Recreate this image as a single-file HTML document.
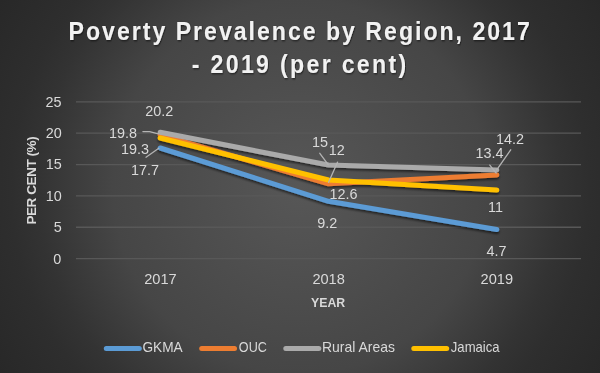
<!DOCTYPE html>
<html><head><meta charset="utf-8">
<style>
html,body{margin:0;padding:0;width:600px;height:373px;overflow:hidden;background:#3a3a3a;}
svg{display:block;will-change:transform;}
text{font-family:"Liberation Sans",sans-serif;}
</style></head>
<body>
<svg width="600" height="373" viewBox="0 0 600 373">
<defs>
<radialGradient id="bg" gradientUnits="userSpaceOnUse" cx="300" cy="186.5" r="353">
<stop offset="0" stop-color="#575757"/>
<stop offset="0.53" stop-color="#464646"/>
<stop offset="0.74" stop-color="#333333"/>
<stop offset="0.82" stop-color="#2e2e2e"/>
<stop offset="1" stop-color="#282828"/>
</radialGradient>
<filter id="sh" x="-10%" y="-30%" width="120%" height="160%">
<feDropShadow dx="0" dy="2" stdDeviation="1.2" flood-color="#000" flood-opacity="0.55"/>
</filter>
<filter id="tsh" x="-5%" y="-20%" width="110%" height="140%">
<feDropShadow dx="0.8" dy="1" stdDeviation="0.8" flood-color="#000" flood-opacity="0.6"/>
</filter>
</defs>
<rect x="0" y="0" width="600" height="373" fill="url(#bg)"/>
<!-- title -->
<g fill="#f2f2f2" font-weight="bold" font-size="25.4" filter="url(#tsh)" transform="scale(0.91,1)">
<text x="75.38" y="40" textLength="506.81" lengthAdjust="spacing">Poverty Prevalence by Region, 2017</text>
<text x="210.77" y="73" textLength="235.60" lengthAdjust="spacing">- 2019 (per cent)</text>
</g>
<!-- gridlines -->
<g stroke="#585858" stroke-width="1.3">
<line x1="76" x2="581" y1="101.85" y2="101.85"/>
<line x1="76" x2="581" y1="133.20" y2="133.20"/>
<line x1="76" x2="581" y1="164.55" y2="164.55"/>
<line x1="76" x2="581" y1="195.90" y2="195.90"/>
<line x1="76" x2="581" y1="227.25" y2="227.25"/>
<line x1="76" x2="581" y1="258.60" y2="258.60"/>
</g>
<text id="ytitle" transform="translate(35.7,224.6) rotate(-90)" fill="#d9d9d9" font-size="13.6" font-weight="bold" textLength="88.3" lengthAdjust="spacing">PER CENT (%)</text>
<!-- series -->
<g fill="none" stroke-width="5.1" stroke-linecap="round" stroke-linejoin="round" filter="url(#sh)">
<polyline stroke="#5B9BD5" points="160.2,148.02 328.5,201.32 496.8,229.53"/>
<polyline stroke="#ED7D31" points="160.2,134.85 328.5,183.76 496.8,174.98"/>
<polyline stroke="#AAAAAA" points="160.2,132.35 328.5,164.95 496.8,169.97"/>
<polyline stroke="#FFC000" points="160.2,137.99 328.5,180.00 496.8,190.03"/>
</g>
<!-- leader lines -->
<g stroke="#b4b4b4" stroke-width="1.3" fill="none" stroke-linecap="round">
<polyline points="142.9,131.6 149.6,131.6 158.3,133.8"/>
<line x1="146" y1="157.2" x2="158.8" y2="148.3"/>
<line x1="319.8" y1="153.3" x2="328.2" y2="164.6"/>
<line x1="337.5" y1="162.2" x2="328.6" y2="182.3"/>
<line x1="510.7" y1="149.8" x2="496.7" y2="169.9"/>
<line x1="489.8" y1="165.1" x2="496.2" y2="173.1"/>
</g>
<!-- legend -->
<g stroke-width="5" stroke-linecap="round">
<line x1="106.3" x2="139.3" y1="348.4" y2="348.4" stroke="#5B9BD5"/>
<line x1="201.7" x2="234.5" y1="348.4" y2="348.4" stroke="#ED7D31"/>
<line x1="285.8" x2="318.8" y1="348.4" y2="348.4" stroke="#AAAAAA"/>
<line x1="413.8" x2="446.7" y1="348.4" y2="348.4" stroke="#FFC000"/>
</g>
<text id="t25" x="45.40" y="107.00" font-size="14.4" fill="#d9d9d9">25</text>
<text id="t20" x="45.85" y="138.20" font-size="14.4" fill="#d9d9d9">20</text>
<text id="t15" x="45.81" y="169.40" font-size="14.4" fill="#d9d9d9">15</text>
<text id="t10" x="45.81" y="200.60" font-size="14.4" fill="#d9d9d9">10</text>
<text id="t5" x="53.68" y="231.80" font-size="14.4" fill="#d9d9d9">5</text>
<text id="t0" x="53.20" y="264.20" font-size="14.4" fill="#d9d9d9">0</text>
<text id="x17" x="144.20" y="284.00" font-size="14.6" fill="#d9d9d9">2017</text>
<text id="x18" x="312.39" y="284.00" font-size="14.6" fill="#d9d9d9">2018</text>
<text id="x19" x="480.56" y="284.00" font-size="14.6" fill="#d9d9d9">2019</text>
<text id="d202" x="145.35" y="116.20" font-size="14.4" fill="#d9d9d9">20.2</text>
<text id="d198" x="109.01" y="138.20" font-size="14.4" fill="#d9d9d9">19.8</text>
<text id="d193" x="121.01" y="154.00" font-size="14.4" fill="#d9d9d9">19.3</text>
<text id="d177" x="131.00" y="175.40" font-size="14.4" fill="#d9d9d9">17.7</text>
<text id="d15" x="312.00" y="146.60" font-size="14.4" fill="#d9d9d9">15</text>
<text id="d12" x="328.81" y="155.00" font-size="14.4" fill="#d9d9d9">12</text>
<text id="d126" x="329.40" y="199.00" font-size="14.4" fill="#d9d9d9">12.6</text>
<text id="d92" x="317.20" y="228.00" font-size="14.4" fill="#d9d9d9">9.2</text>
<text id="d142" x="496.01" y="144.20" font-size="14.4" fill="#d9d9d9">14.2</text>
<text id="d134" x="475.40" y="158.40" font-size="14.4" fill="#d9d9d9">13.4</text>
<text id="d11" x="488.01" y="211.60" font-size="14.4" fill="#d9d9d9">11</text>
<text id="d47" x="486.40" y="255.60" font-size="14.4" fill="#d9d9d9">4.7</text>
<text id="lg1" x="142.38" y="352.00" font-size="14.4" fill="#d9d9d9" textLength="40.29" lengthAdjust="spacingAndGlyphs">GKMA</text>
<text id="lg2" x="238.84" y="352.00" font-size="14.4" fill="#d9d9d9" textLength="28.00" lengthAdjust="spacingAndGlyphs">OUC</text>
<text id="lg3" x="322.00" y="352.00" font-size="14.4" fill="#d9d9d9" textLength="72.89" lengthAdjust="spacingAndGlyphs">Rural Areas</text>
<text id="lg4" x="450.80" y="352.00" font-size="14.4" fill="#d9d9d9" textLength="48.79" lengthAdjust="spacingAndGlyphs">Jamaica</text>
<text id="year" x="311.01" y="307.00" font-size="13.0" font-weight="bold" fill="#d9d9d9" textLength="34.14" lengthAdjust="spacingAndGlyphs">YEAR</text>
</svg>
</body></html>
